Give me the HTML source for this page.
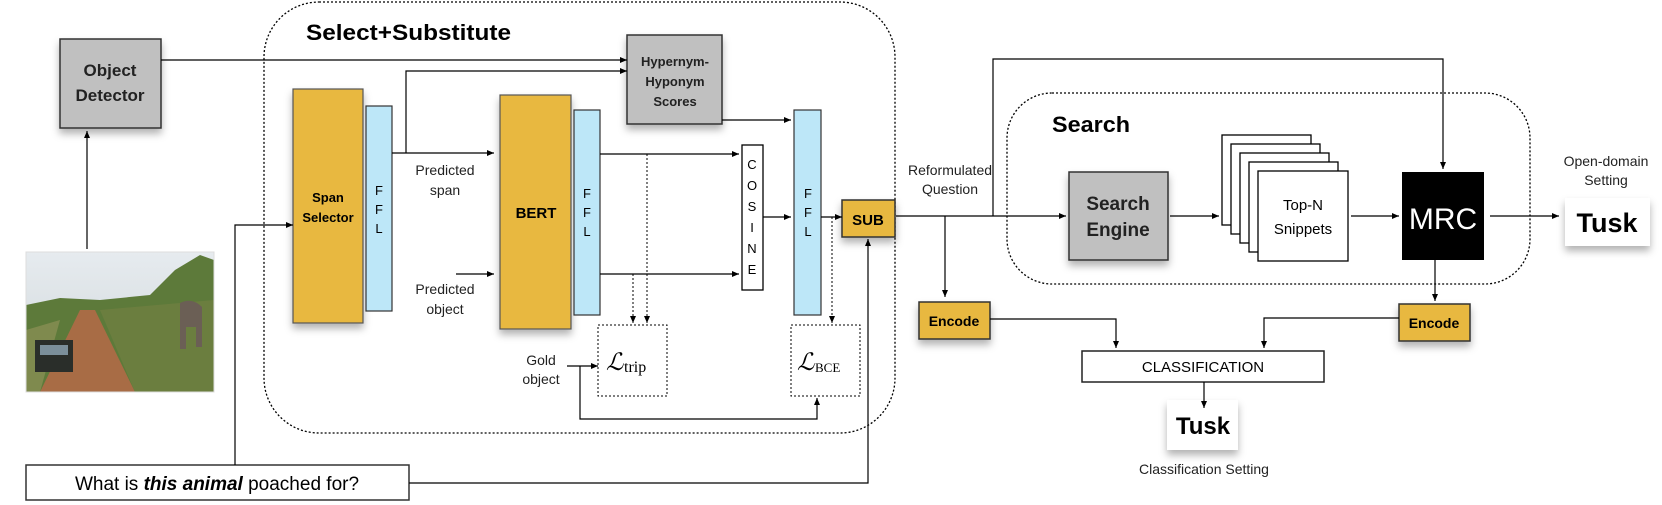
<!DOCTYPE html>
<html><head><meta charset="utf-8"><style>
html,body{margin:0;padding:0;background:#fff;}
svg{display:block;font-family:"Liberation Sans",sans-serif;}
</style></head><body>
<svg width="1662" height="505" viewBox="0 0 1662 505" xmlns="http://www.w3.org/2000/svg">
<defs>
<marker id="a" markerWidth="8" markerHeight="8" refX="7" refY="4" orient="auto" markerUnits="userSpaceOnUse"><path d="M0,1 L7,4 L0,7 z" fill="#000"/></marker>
<linearGradient id="sky" x1="0" y1="0" x2="0" y2="1"><stop offset="0" stop-color="#e6ebef"/><stop offset="1" stop-color="#cfd6d8"/></linearGradient>
<filter id="sh" x="-20%" y="-20%" width="140%" height="160%"><feDropShadow dx="0" dy="5" stdDeviation="4" flood-color="#000" flood-opacity="0.3"/></filter>
</defs>
<g fill="none" stroke="#000" stroke-width="1.3">
<!-- dotted group boxes -->
<rect x="264" y="2" width="631" height="431" rx="55" stroke-dasharray="2,2"/>
<rect x="1007" y="93" width="523" height="191" rx="45" stroke-dasharray="2,2"/>
</g>
<text x="306" y="40" font-size="22" font-weight="bold" textLength="205" lengthAdjust="spacingAndGlyphs">Select+Substitute</text>
<text x="1052" y="132" font-size="22" font-weight="bold" textLength="78" lengthAdjust="spacingAndGlyphs">Search</text>

<!-- photo -->
<g>
<rect x="26" y="252" width="188" height="140" fill="url(#sky)"/>
<path d="M26,305 L60,298 L100,300 L150,295 L175,270 L200,255 L214,260 L214,392 L26,392 z" fill="#5d7a3a"/>
<path d="M40,392 L80,310 L95,310 L135,392 z" fill="#a86c45"/>
<path d="M26,392 L26,330 L60,320 L40,392 z" fill="#7f8a4e"/>
<path d="M135,392 L100,310 L214,300 L214,392 z" fill="#6b7e3f"/>
<rect x="35" y="340" width="38" height="32" fill="#2a2e2a"/>
<rect x="40" y="345" width="28" height="10" fill="#7b8f9a"/>
<path d="M180,303 q12,-6 22,4 l0,40 l-6,0 l0,-20 l-10,0 l0,22 l-6,0 z" fill="#6b5f55"/>
<rect x="26" y="252" width="188" height="140" fill="none" stroke="#ddd" stroke-width="1"/>
</g>

<!-- Object detector -->
<rect x="60" y="39" width="101" height="89" fill="#c0c0c0" stroke="#333" stroke-width="1.5" filter="url(#sh)"/>
<text x="110" y="76" font-size="17" font-weight="bold" text-anchor="middle" fill="#222">Object</text>
<text x="110" y="101" font-size="17" font-weight="bold" text-anchor="middle" fill="#222">Detector</text>

<!-- Hypernym -->
<rect x="627" y="35" width="95" height="89" fill="#c0c0c0" stroke="#333" stroke-width="1.5" filter="url(#sh)"/>
<text x="675" y="66" font-size="13" font-weight="bold" text-anchor="middle" fill="#222">Hypernym-</text>
<text x="675" y="86" font-size="13" font-weight="bold" text-anchor="middle" fill="#222">Hyponym</text>
<text x="675" y="106" font-size="13" font-weight="bold" text-anchor="middle" fill="#222">Scores</text>

<!-- Span selector, FFL -->
<rect x="293" y="89" width="70" height="234" fill="#e8b840" stroke="#555" stroke-width="1.2" filter="url(#sh)"/>
<text x="328" y="202" font-size="13" font-weight="bold" text-anchor="middle">Span</text>
<text x="328" y="222" font-size="13" font-weight="bold" text-anchor="middle">Selector</text>
<rect x="366" y="106" width="26" height="205" fill="#bde7f8" stroke="#333" stroke-width="1.2"/>
<text x="379" y="195" font-size="13" text-anchor="middle">F</text>
<text x="379" y="214" font-size="13" text-anchor="middle">F</text>
<text x="379" y="233" font-size="13" text-anchor="middle">L</text>

<!-- BERT -->
<rect x="500" y="95" width="71" height="234" fill="#e8b840" stroke="#555" stroke-width="1.2" filter="url(#sh)"/>
<text x="536" y="218" font-size="15" font-weight="bold" text-anchor="middle">BERT</text>
<rect x="574" y="110" width="26" height="205" fill="#bde7f8" stroke="#333" stroke-width="1.2"/>
<text x="587" y="198" font-size="13" text-anchor="middle">F</text>
<text x="587" y="217" font-size="13" text-anchor="middle">F</text>
<text x="587" y="236" font-size="13" text-anchor="middle">L</text>

<!-- COSINE -->
<rect x="742" y="145" width="21" height="145" fill="#fff" stroke="#000" stroke-width="1.3"/>
<g font-size="13" text-anchor="middle"><text x="752" y="169">C</text><text x="752" y="190">O</text><text x="752" y="211">S</text><text x="752" y="232">I</text><text x="752" y="253">N</text><text x="752" y="274">E</text></g>

<!-- FFL3 -->
<rect x="794" y="110" width="27" height="205" fill="#bde7f8" stroke="#333" stroke-width="1.2"/>
<text x="808" y="198" font-size="13" text-anchor="middle">F</text>
<text x="808" y="217" font-size="13" text-anchor="middle">F</text>
<text x="808" y="236" font-size="13" text-anchor="middle">L</text>

<!-- SUB -->
<rect x="842" y="200" width="53" height="37" fill="#e8b840" stroke="#333" stroke-width="1.5" filter="url(#sh)"/>
<text x="868" y="225" font-size="15" font-weight="bold" text-anchor="middle">SUB</text>

<!-- loss boxes -->
<rect x="598" y="325" width="69" height="71" fill="#fff" stroke="#000" stroke-dasharray="2,2"/>
<text x="606" y="370" font-size="24" font-family="Liberation Serif,serif" font-style="italic">ℒ</text><text x="624" y="372" font-size="16" font-family="Liberation Serif,serif">trip</text>
<rect x="791" y="325" width="69" height="71" fill="#fff" stroke="#000" stroke-dasharray="2,2"/>
<text x="797" y="370" font-size="24" font-family="Liberation Serif,serif" font-style="italic">ℒ</text><text x="815" y="372" font-size="13" font-family="Liberation Serif,serif">BCE</text>

<!-- labels -->
<g font-size="14" text-anchor="middle" fill="#222">
<text x="445" y="175">Predicted</text><text x="445" y="195">span</text>
<text x="445" y="294">Predicted</text><text x="445" y="314">object</text>
<text x="541" y="365">Gold</text><text x="541" y="384">object</text>
<text x="950" y="175">Reformulated</text><text x="950" y="194">Question</text>
<text x="1606" y="166">Open-domain</text><text x="1606" y="185">Setting</text>
<text x="1204" y="474">Classification Setting</text>
</g>

<!-- question -->
<rect x="26" y="465" width="383" height="35" fill="#fff" stroke="#333" stroke-width="1.5"/>
<text x="217" y="490" font-size="19" text-anchor="middle">What is <tspan font-weight="bold" font-style="italic">this animal</tspan> poached for?</text>

<!-- Search engine etc -->
<rect x="1069" y="172" width="99" height="88" fill="#c0c0c0" stroke="#333" stroke-width="1.5" filter="url(#sh)"/>
<text x="1118" y="210" font-size="19" font-weight="bold" text-anchor="middle" fill="#222">Search</text>
<text x="1118" y="236" font-size="19" font-weight="bold" text-anchor="middle" fill="#222">Engine</text>
<g fill="#fff" stroke="#000" stroke-width="1.3">
<rect x="1222" y="135" width="89" height="90"/>
<rect x="1231" y="144" width="89" height="90"/>
<rect x="1240" y="153" width="89" height="90"/>
<rect x="1249" y="162" width="89" height="90"/>
<rect x="1258" y="171" width="90" height="90"/>
</g>
<text x="1303" y="210" font-size="15" text-anchor="middle">Top-N</text>
<text x="1303" y="234" font-size="15" text-anchor="middle">Snippets</text>
<rect x="1402" y="172" width="82" height="88" fill="#000"/>
<text x="1443" y="229" font-size="30" text-anchor="middle" fill="#fff">MRC</text>

<!-- Tusk cards -->
<rect x="1565" y="198" width="85" height="48" fill="#fff" filter="url(#sh)"/>
<text x="1607" y="232" font-size="27" font-weight="bold" text-anchor="middle">Tusk</text>
<rect x="1167" y="400" width="71" height="50" fill="#fff" filter="url(#sh)"/>
<text x="1203" y="434" font-size="24" font-weight="bold" text-anchor="middle">Tusk</text>

<!-- Encode / classification -->
<rect x="919" y="302" width="71" height="37" fill="#e8b840" stroke="#333" stroke-width="1.5" filter="url(#sh)"/>
<text x="954" y="326" font-size="14" font-weight="bold" text-anchor="middle">Encode</text>
<rect x="1399" y="304" width="71" height="37" fill="#e8b840" stroke="#333" stroke-width="1.5" filter="url(#sh)"/>
<text x="1434" y="328" font-size="14" font-weight="bold" text-anchor="middle">Encode</text>
<rect x="1082" y="351" width="242" height="31" fill="#fff" stroke="#222" stroke-width="1.5"/>
<text x="1203" y="372" font-size="15" text-anchor="middle">CLASSIFICATION</text>

<!-- connectors -->
<g fill="none" stroke="#000" stroke-width="1.2">
<path d="M87,249 V131" marker-end="url(#a)"/>
<path d="M161,60 H627" marker-end="url(#a)"/>
<path d="M406,153 V71 H627" marker-end="url(#a)"/>
<path d="M392,153 H494" marker-end="url(#a)"/>
<path d="M456,274 H494" marker-end="url(#a)"/>
<path d="M600,154 H739" marker-end="url(#a)"/>
<path d="M600,274 H739" marker-end="url(#a)"/>
<path d="M722,120 H791" marker-end="url(#a)"/>
<path d="M763,217 H791" marker-end="url(#a)"/>
<path d="M821,217 H842" marker-end="url(#a)"/>
<path d="M567,366 H598" marker-end="url(#a)"/>
<path d="M580,366 V419 H817 V398" marker-end="url(#a)"/>
<path d="M235,465 V225 H293" marker-end="url(#a)"/>
<path d="M409,483 H868 V239" marker-end="url(#a)"/>
<path d="M896,216 H1066" marker-end="url(#a)"/>
<path d="M945,216 V297" marker-end="url(#a)"/>
<path d="M993,216 V59 H1443 V169" marker-end="url(#a)"/>
<path d="M1170,216 H1219" marker-end="url(#a)"/>
<path d="M1351,216 H1399" marker-end="url(#a)"/>
<path d="M1490,216 H1559" marker-end="url(#a)"/>
<path d="M1435,260 V301" marker-end="url(#a)"/>
<path d="M990,319 H1116 V348" marker-end="url(#a)"/>
<path d="M1399,318 H1264 V348" marker-end="url(#a)"/>
<path d="M1204,382 V408" marker-end="url(#a)"/>
</g>
<g fill="none" stroke="#000" stroke-width="1" stroke-dasharray="2,2">
<path d="M633,274 V323" marker-end="url(#a)"/>
<path d="M647,154 V323" marker-end="url(#a)"/>
<path d="M832,217 V323" marker-end="url(#a)"/>
</g>
</svg>
</body></html>
